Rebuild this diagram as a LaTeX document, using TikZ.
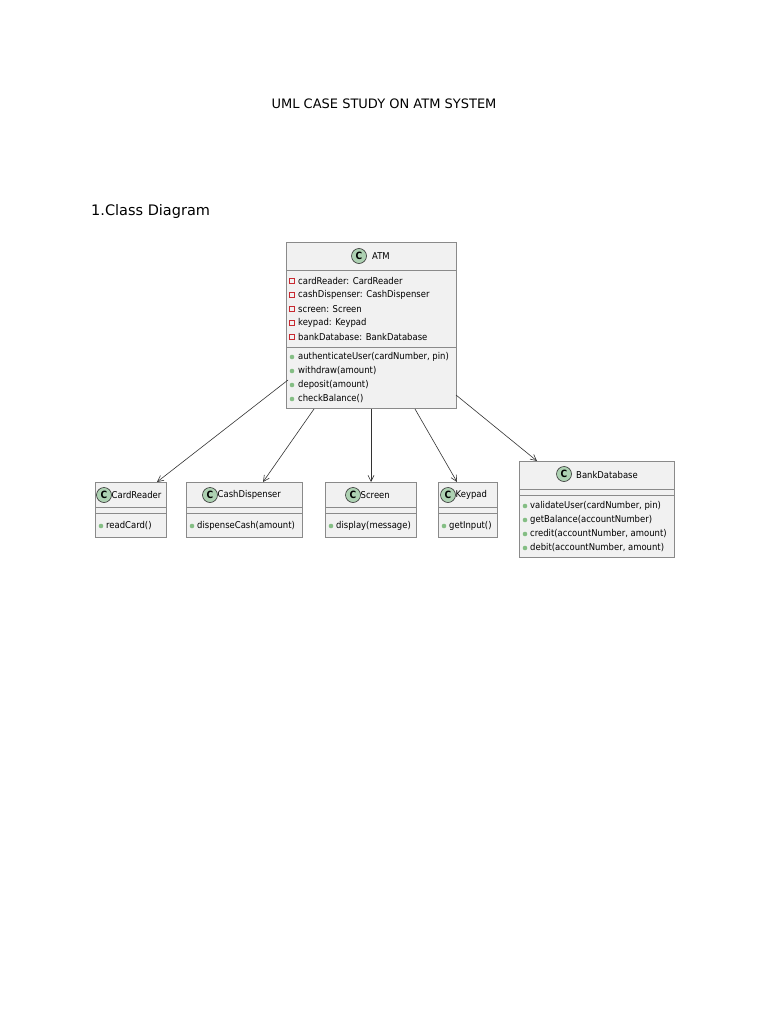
\documentclass[tikz,border=0pt]{standalone}
\usepackage{fontspec}
\setmainfont{DejaVu Sans}
\newfontfamily\cond{DejaVu Sans Condensed}
\usetikzlibrary{arrows.meta}
\definecolor{boxfill}{HTML}{F1F1F1}
\definecolor{boxline}{HTML}{8A8A8A}
\definecolor{cfill}{HTML}{ADD1B2}
\definecolor{privred}{HTML}{C82930}
\definecolor{pubgreen}{HTML}{84BE84}
\tikzset{
  cls/.style={draw=boxline, fill=boxfill, line width=0.7pt},
  sep/.style={draw=boxline, line width=0.6pt},
  txt/.style={anchor=west, inner sep=0pt, font=\cond\fontsize{9.4}{10}\selectfont},
  ico/.style={circle, draw=black!80, fill=cfill, line width=0.6pt, minimum size=15pt, inner sep=0pt, font=\cond\bfseries\fontsize{10}{10}\selectfont},
  dep/.style={-{Straight Barb[length=6pt,width=6pt]}, line width=0.6pt, draw=black!80},
}
\newcommand{\priv}[2]{\draw[privred, line width=0.5pt] (#1-3,#2-2.5) rectangle (#1+2,#2+2.5);}
\newcommand{\pub}[2]{\fill[pubgreen] (#1,#2) circle (2.3pt);}
\begin{document}
\begin{tikzpicture}[x=1pt,y=-1pt]
\fill[white] (0,0) rectangle (768,1024);
\useasboundingbox (0,0) rectangle (768,1024);
\node[font=\fontsize{13}{15}\selectfont] (title) at (384,104) {UML CASE STUDY ON ATM SYSTEM};
\node[anchor=west, font=\fontsize{14.5}{17}\selectfont, inner sep=0pt] (sec) at (91,211) {1.Class Diagram};

% ATM
\path[cls] (286,242) rectangle (456,408);
\draw[sep] (286,270) -- (456,270);
\draw[sep] (286,347) -- (456,347);
\node[ico] (atmi) at (359,256) {C};
\node[txt] (atmn) at (372,256) {ATM};
\foreach \y/\t in {281/cardReader: CardReader,295/cashDispenser: CashDispenser,309/screen: Screen,323/keypad: Keypad,337/bankDatabase: BankDatabase}{
  \priv{292}{\y}
  \node[txt] at (298,\y) {\t};
}
\foreach \y/\t in {357/authenticateUser(cardNumber{,} pin),371/withdraw(amount),385/deposit(amount),399/checkBalance()}{
  \pub{292}{\y}
  \node[txt] at (298,\y) {\t};
}
\coordinate (a1) at (288,380);
\coordinate (a2) at (314,409);
\coordinate (a3) at (371,409);
\coordinate (a4) at (415,409);
\coordinate (a5) at (456,395);

% small classes
\foreach \nm/\xl/\xr/\ic/\title/\meth in {
  cr/95/166/104/CardReader/readCard(),
  cd/186/302/210/CashDispenser/dispenseCash(amount),
  sc/325/416/353/Screen/display(message),
  kp/438/497/448/Keypad/getInput()}{
  \path[cls] (\xl,482) rectangle (\xr,537);
  \draw[sep] (\xl,507) -- (\xr,507);
  \draw[sep] (\xl,513) -- (\xr,513);
  \node[ico] (\nm i) at (\ic,495) {C};
  \node[txt] (\nm n) at (\ic+7.5,495) {\title};
  \pub{\xl+6}{526}
  \node[txt] at (\xl+11,526) {\meth};
  \coordinate (\nm) at ({(\xl+\xr)/2},482);
}
\coordinate (crt) at (157,482);
\coordinate (cdt) at (263,482);
\coordinate (sct) at (371,482);
\coordinate (kpt) at (457,482);

% BankDatabase
\path[cls] (519,461) rectangle (674,557);
\draw[sep] (519,489) -- (674,489);
\draw[sep] (519,495) -- (674,495);
\node[ico] (bdi) at (564,474) {C};
\node[txt] (bdn) at (576,475) {BankDatabase};
\foreach \y/\t in {506/validateUser(cardNumber{,} pin),520/getBalance(accountNumber),534/credit(accountNumber{,} amount),548/debit(accountNumber{,} amount)}{
  \pub{525}{\y}
  \node[txt] at (530,\y) {\t};
}
\coordinate (bdt) at (537,461);

\draw[dep] (a1) -- (crt);
\draw[dep] (a2) -- (cdt);
\draw[dep] (a3) -- (sct);
\draw[dep] (a4) -- (kpt);
\draw[dep] (a5) -- (bdt);
\end{tikzpicture}
\end{document}
